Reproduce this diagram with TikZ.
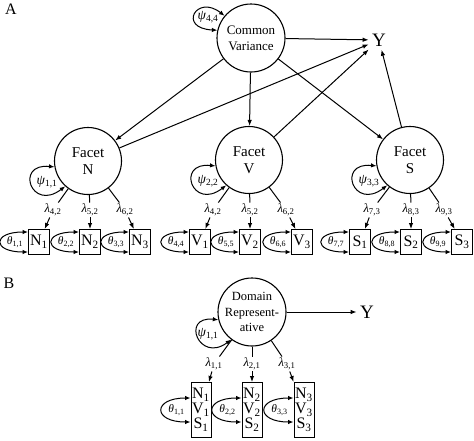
\documentclass[tikz,border=0pt]{standalone}
\usepackage{fontspec}
\setmainfont{Liberation Serif}
\usetikzlibrary{arrows.meta}
\newcommand{\gsub}[2]{\textit{#1}\textsubscript{#2}}
\begin{document}
\begin{tikzpicture}[x=1pt,y=1pt,
  line width=1pt,
  arr/.style={-{Latex[length=6pt,width=4.5pt]}},
  dbl/.style={{Latex[length=5.5pt,width=4.5pt]}-{Latex[length=5.5pt,width=4.5pt]}},
  lat/.style={circle,draw,line width=1.1pt,minimum size=67pt,inner sep=0pt,align=center,font=\fontsize{13}{16}\selectfont},
  fac/.style={lat,font=\fontsize{15}{17}\selectfont},
  obs/.style={draw,minimum width=21pt,minimum height=25pt,inner sep=0pt,font=\fontsize{16}{18}\selectfont},
  tall/.style={draw,minimum width=20pt,minimum height=55pt,inner sep=0pt,align=center,font=\fontsize{16}{15}\selectfont},
  prm/.style={inner sep=1pt,font=\fontsize{12.5}{13}\selectfont},
  psl/.style={inner sep=0pt,font=\fontsize{13.5}{14}\selectfont},
  thl/.style={inner sep=0pt,font=\fontsize{11.5}{12}\selectfont},
  ylab/.style={inner sep=3pt,font=\fontsize{19}{20}\selectfont},
  pan/.style={inner sep=0pt,font=\fontsize{16}{18}\selectfont}
]
\useasboundingbox (0,0) rectangle (474,-440);

% Panel labels
\node[pan] (pA) at (11,-9) {A};
\node[pan] (pB) at (9,-283) {B};

% ---------------- Panel A ----------------
\node[lat,minimum size=68pt] (CV) at (251,-38) {Common\\Variance};
\node[ylab] (Y) at (379,-40) {Y};
\node[fac] (FN) at (88,-161) {Facet\\N};
\node[fac] (FV) at (249,-160) {Facet\\V};
\node[fac] (FS) at (410,-160) {Facet\\S};

\draw[arr] (CV) -- (Y);
\draw[arr] (CV) -- (FN);
\draw[arr] (CV) -- (FV);
\draw[arr] (CV) -- (FS);
\draw[arr] (FN) -- (Y);
\draw[arr] (FV) -- (Y);
\draw[arr] (FS) -- (Y);

% psi loops
\draw[dbl] (CV.140) .. controls +(-28,22) and +(-40,2) .. (CV.167);
\node[psl] (psi44) at (208,-17) {\gsub{ψ}{4,4}};

\draw[dbl] (FN.190) .. controls +(-40,4) and +(-34,-26) .. (FN.228);
\node[psl] (psi11) at (47,-182) {\gsub{ψ}{1,1}};
\draw[dbl] (FV.190) .. controls +(-40,4) and +(-34,-26) .. (FV.228);
\node[psl] (psi22) at (208,-181) {\gsub{ψ}{2,2}};
\draw[dbl] (FS.190) .. controls +(-40,4) and +(-34,-26) .. (FS.228);
\node[psl] (psi33) at (369,-181) {\gsub{ψ}{3,3}};

% indicators
\node[obs] (N1) at (39,-242) {N\textsubscript{1}};
\node[obs] (N2) at (90,-242) {N\textsubscript{2}};
\node[obs] (N3) at (140,-242) {N\textsubscript{3}};
\node[obs] (V1) at (200,-242) {V\textsubscript{1}};
\node[obs] (V2) at (250,-242) {V\textsubscript{2}};
\node[obs] (V3) at (302,-242) {V\textsubscript{3}};
\node[obs] (S1) at (360,-242) {S\textsubscript{1}};
\node[obs] (S2) at (411,-242) {S\textsubscript{2}};
\node[obs] (S3) at (462,-242) {S\textsubscript{3}};

% loadings
\node[prm] (lN1) at (53,-210) {\gsub{λ}{4,2}};
\node[prm] (lN2) at (90,-210) {\gsub{λ}{5,2}};
\node[prm] (lN3) at (125,-210) {\gsub{λ}{6,2}};
\node[prm] (lV1) at (213,-210) {\gsub{λ}{4,2}};
\node[prm] (lV2) at (250,-210) {\gsub{λ}{5,2}};
\node[prm] (lV3) at (286,-210) {\gsub{λ}{6,2}};
\node[prm] (lS1) at (372,-210) {\gsub{λ}{7,3}};
\node[prm] (lS2) at (411,-210) {\gsub{λ}{8,3}};
\node[prm] (lS3) at (444,-210) {\gsub{λ}{9,3}};

\foreach \f/\l/\b in {FN/lN1/N1,FN/lN2/N2,FN/lN3/N3,FV/lV1/V1,FV/lV2/V2,FV/lV3/V3,FS/lS1/S1,FS/lS2/S2,FS/lS3/S3}{
  \draw (\f) -- (\l);
  \draw[arr] (\l) -- (\b);
}

% residual loops
\foreach \b in {N1,N2,N3,V1,V2,V3,S1,S2,S3}{
  \draw[dbl] ([yshift=10pt]\b.west) .. controls +(-36,0) and +(-36,0) .. ([yshift=-10pt]\b.west);
}
\node[thl] (tN1) at ([xshift=-13pt]N1.west) {\gsub{θ}{1,1}};
\node[thl] (tN2) at ([xshift=-13pt]N2.west) {\gsub{θ}{2,2}};
\node[thl] (tN3) at ([xshift=-13pt]N3.west) {\gsub{θ}{3,3}};
\node[thl] (tV1) at ([xshift=-13pt]V1.west) {\gsub{θ}{4,4}};
\node[thl] (tV2) at ([xshift=-13pt]V2.west) {\gsub{θ}{5,5}};
\node[thl] (tV3) at ([xshift=-13pt]V3.west) {\gsub{θ}{6,6}};
\node[thl] (tS1) at ([xshift=-13pt]S1.west) {\gsub{θ}{7,7}};
\node[thl] (tS2) at ([xshift=-13pt]S2.west) {\gsub{θ}{8,8}};
\node[thl] (tS3) at ([xshift=-13pt]S3.west) {\gsub{θ}{9,9}};

% ---------------- Panel B ----------------
\node[lat,minimum size=68pt,font=\fontsize{12.5}{15.5}\selectfont] (DR) at (252,-312) {Domain\\Represent-\\ative};
\node[ylab] (YB) at (367,-312) {Y};
\draw[arr] (DR) -- (YB);

\draw[dbl] (DR.193) .. controls +(-38,4) and +(-32,-24) .. (DR.233);
\node[psl] (psiB) at (208,-334) {\gsub{ψ}{1,1}};

\node[tall] (B1) at (201,-410) {N\textsubscript{1}\\V\textsubscript{1}\\S\textsubscript{1}};
\node[tall] (B2) at (252,-410) {N\textsubscript{2}\\V\textsubscript{2}\\S\textsubscript{2}};
\node[tall] (B3) at (304,-410) {N\textsubscript{3}\\V\textsubscript{3}\\S\textsubscript{3}};

\node[prm] (m1) at (214,-364) {\gsub{λ}{1,1}};
\node[prm] (m2) at (252,-364) {\gsub{λ}{2,1}};
\node[prm] (m3) at (287,-364) {\gsub{λ}{3,1}};
\foreach \l/\b in {m1/B1,m2/B2,m3/B3}{
  \draw (DR) -- (\l);
  \draw[arr] (\l) -- (\b);
}
\foreach \b in {B1,B2,B3}{
  \draw[dbl] ([yshift=12pt]\b.west) .. controls +(-38,0) and +(-38,0) .. ([yshift=-12pt]\b.west);
}
\node[thl] (tB1) at ([xshift=-14pt]B1.west) {\gsub{θ}{1,1}};
\node[thl] (tB2) at ([xshift=-14pt]B2.west) {\gsub{θ}{2,2}};
\node[thl] (tB3) at ([xshift=-14pt]B3.west) {\gsub{θ}{3,3}};
\end{tikzpicture}
\end{document}
